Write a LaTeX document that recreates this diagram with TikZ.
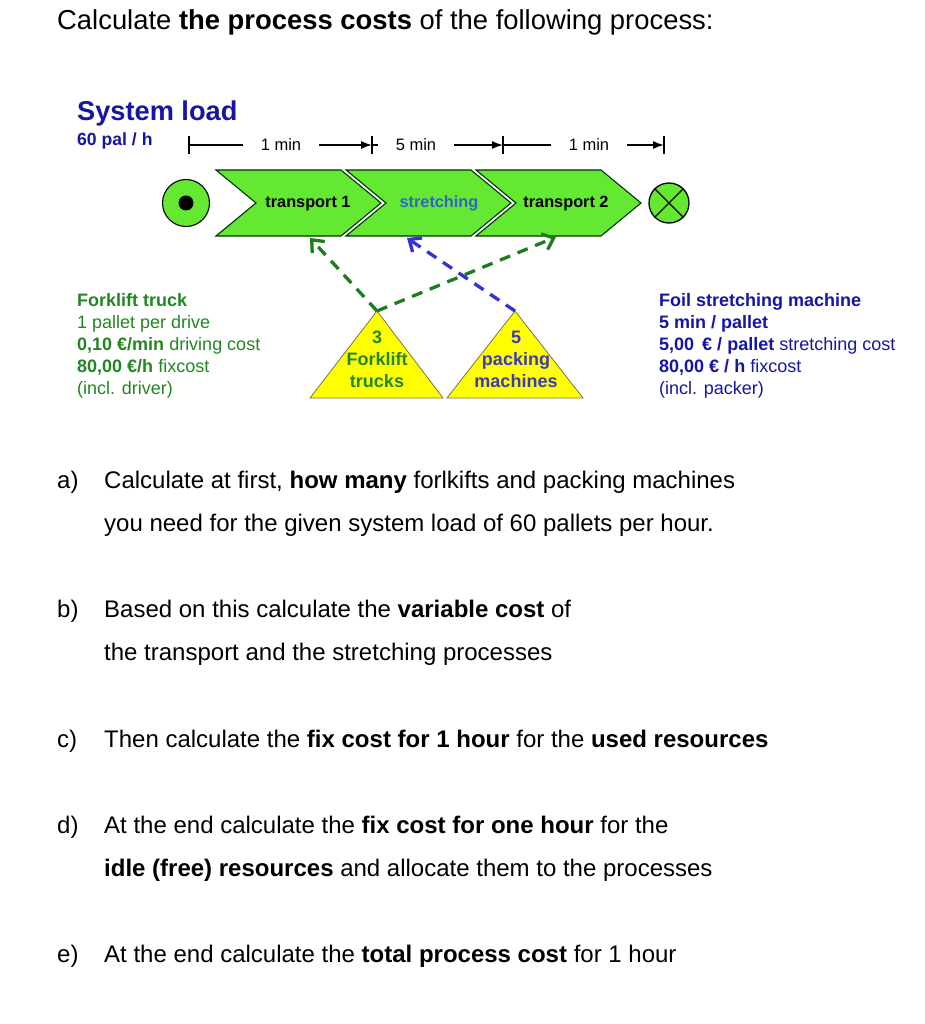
\documentclass[tikz,border=0pt]{standalone}
\usepackage{fontspec}
\setmainfont{Liberation Sans}
\usetikzlibrary{arrows.meta,calc}
\definecolor{chgreen}{RGB}{100,232,50}
\definecolor{dkgreen}{RGB}{34,135,34}
\definecolor{navy}{RGB}{22,22,165}
\definecolor{stblue}{RGB}{50,100,200}
\definecolor{pkblue}{RGB}{60,60,180}
\definecolor{arrgreen}{RGB}{30,125,30}
\definecolor{arrblue}{RGB}{50,50,215}
\definecolor{triyellow}{RGB}{255,255,0}
\tikzset{
  chev/.style={fill=chgreen, draw=black!80!green, line width=1.1pt, line join=miter},
  chevtext/.style={anchor=base, font=\fontsize{16.3}{19}\selectfont\bfseries},
  tri/.style={fill=triyellow, draw=black!60!yellow, line width=0.8pt},
  tritext/.style={align=center, font=\fontsize{18}{22}\selectfont\bfseries},
  tlabel/.style={font=\fontsize{16.5}{19}\selectfont, inner xsep=18pt, inner ysep=0pt},
  tline/.style={line width=1.4pt},
  tarrow/.style={line width=1.4pt, -{Latex[length=11pt,width=8pt]}},
  tbar/.style={line width=1.6pt},
  resarrow/.style={line width=3.3pt, dash pattern=on 11pt off 8pt, -{Straight Barb[length=10pt,width=17pt,line width=3.3pt]}},
  info/.style={anchor=north west, align=left, font=\fontsize{18}{22}\selectfont, inner sep=0pt},
  qlabel/.style={anchor=base west, inner sep=0pt, font=\fontsize{24}{28}\selectfont},
}
\begin{document}
\begin{tikzpicture}[x=1pt,y=-1pt]
\useasboundingbox (0,0) rectangle (925,1024);
\fill[white] (0,0) rectangle (925,1024);

% title
\node[anchor=base west, inner sep=0pt, font=\fontsize{27.4}{32}\selectfont] (title) at (57,30)
  {Calculate \textbf{the process costs} of the following process:};

% system load
\node[anchor=base west, inner sep=0pt, text=navy, font=\fontsize{27.2}{32}\selectfont\bfseries] (sys) at (77,121) {System load};
\node[anchor=base west, inner sep=0pt, text=navy, font=\fontsize{17.6}{21}\selectfont\bfseries] (load) at (77,146) {60 pal / h};

% timeline
\coordinate (b1) at (189,145);
\coordinate (b2) at (372,145);
\coordinate (b3) at (503,145);
\coordinate (b4) at (664,145);
\foreach \b in {b1,b2,b3,b4}{\draw[tbar] ($(\b)+(0,-9)$) -- ($(\b)+(0,9)$);}
\node[tlabel] (m1) at (281,145) {1 min};
\node[tlabel] (m2) at (416,145) {5 min};
\node[tlabel] (m3) at (589,145) {1 min};
\draw[tline] (b1) -- (m1.west);
\draw[tarrow] (m1.east) -- (b2);
\draw[tline] (b2) -- (m2.west);
\draw[tarrow] (m2.east) -- (b3);
\draw[tline] (b3) -- (m3.west);
\draw[tarrow] (m3.east) -- (b4);

% start / end events
\node[circle, fill=chgreen, draw=black, line width=1.1pt, minimum size=47pt, inner sep=0pt] (start) at (186,203) {};
\fill[black] (start.center) circle (7.5);
\node[circle, fill=chgreen, draw=black, line width=1.3pt, minimum size=40pt, inner sep=0pt] (end) at (669,203) {};
\draw[line width=1.3pt] (end.north west) -- (end.south east) (end.north east) -- (end.south west);

% chevrons
\foreach \x in {216,346,476}{
  \draw[chev] (\x,170) -- (\x+125,170) -- (\x+165,203) -- (\x+125,236) -- (\x,236) -- (\x+40,203) -- cycle;
}
\node[chevtext] (t1) at (308,208) {transport 1};
\node[chevtext, text=stblue] (st) at (439,208) {stretching};
\node[chevtext] (t2) at (566,208) {transport 2};
\coordinate (t1in) at (310,238);
\coordinate (stin) at (407,238);
\coordinate (t2in) at (556,237);

% resources
\draw[tri] (310,398) -- (443,398) -- (377,311) -- cycle;
\draw[tri] (447,398) -- (583,398) -- (515,311) -- cycle;
\coordinate (fa) at (377,311);
\coordinate (pa) at (515,311);
\node[tritext, text=dkgreen] (fk) at (377,359) {3\\Forklift\\trucks};
\node[tritext, text=pkblue] (pk) at (516,359) {5\\packing\\machines};

\draw[resarrow, arrgreen] (fa) -- (t1in);
\draw[resarrow, arrgreen] (fa) -- (t2in);
\draw[resarrow, arrblue] (pa) -- (stin);

% info blocks
\node[info, text=dkgreen] (finfo) at (77,293) {\textbf{Forklift truck}\\1 pallet per drive\\\textbf{0,10 €/min} driving cost\\\textbf{80,00 €/h} fixcost\\(incl. driver)};
\node[info, text=navy] (pinfo) at (659,293) {\textbf{Foil stretching machine}\\\textbf{5 min / pallet}\\\textbf{5,00 \,€ / pallet} stretching cost\\\textbf{80,00 € / h} fixcost\\(incl. packer)};

% questions
\node[qlabel] (qa) at (57,488) {a)};
\node[qlabel] (qa1) at (104,488) {Calculate at first, \textbf{how many} forlkifts and packing machines};
\node[qlabel] (qa2) at (104,531) {you need for the given system load of 60 pallets per hour.};
\node[qlabel] (qb) at (57,617) {b)};
\node[qlabel] (qb1) at (104,617) {Based on this calculate the \textbf{variable cost} of};
\node[qlabel] (qb2) at (104,660) {the transport and the stretching processes};
\node[qlabel] (qc) at (57,747) {c)};
\node[qlabel] (qc1) at (104,747) {Then calculate the \textbf{fix cost for 1 hour} for the \textbf{used resources}};
\node[qlabel] (qd) at (57,833) {d)};
\node[qlabel] (qd1) at (104,833) {At the end calculate the \textbf{fix cost for one hour} for the};
\node[qlabel] (qd2) at (104,876) {\textbf{idle (free) resources} and allocate them to the processes};
\node[qlabel] (qe) at (57,962) {e)};
\node[qlabel] (qe1) at (104,962) {At the end calculate the \textbf{total process cost} for 1 hour};
\end{tikzpicture}
\end{document}
